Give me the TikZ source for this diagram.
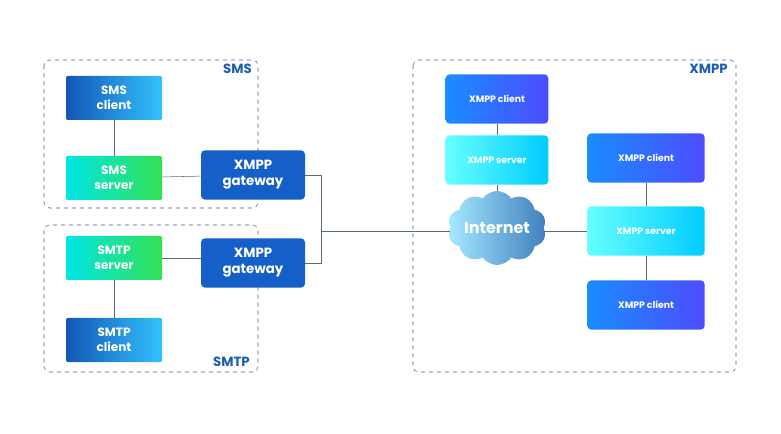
\documentclass[tikz,border=0pt]{standalone}
\usepackage{fontspec}
\setmainfont{Poppins}
\usetikzlibrary{shapes.symbols}
\definecolor{lbl}{HTML}{1A5FB4}
\definecolor{line}{HTML}{5A6B80}
\definecolor{dash}{HTML}{3F6A9A}
\definecolor{gw}{HTML}{1560C8}
\tikzset{>=latex}
\begin{document}
\begin{tikzpicture}[x=0.75pt,y=-0.75pt]
  % sc = sms/smtp client, ss = server, gw = gateway, xc/xs = xmpp client/server
  \tikzstyle{every node}=[text=white, font=\bfseries\small, align=center, inner sep=0pt]
  \tikzstyle{box}=[rectangle, rounded corners=1pt, minimum width=72pt, minimum height=33pt]
  \tikzstyle{cli}=[box, left color=gw!90!black, right color=cyan!70!blue!80]
  \tikzstyle{srv}=[box, left color=cyan!80!teal, right color=green!70!teal!80]
  \tikzstyle{gate}=[box, rounded corners=3pt, fill=gw, minimum width=78pt, minimum height=37pt, font=\bfseries\normalsize]
  \tikzstyle{xcli}=[box, rounded corners=3pt, left color=blue!50!cyan!90, right color=blue!70!white, minimum width=77pt, minimum height=37pt, font=\bfseries\scriptsize]
  \tikzstyle{xsrv}=[xcli, left color=cyan!60!white, right color=cyan!80!blue]
  \tikzstyle{grp}=[draw=dash, dashed, rounded corners=4pt]
  \tikzstyle{tag}=[text=lbl, font=\bfseries\normalsize, anchor=north east]
  \tikzstyle{link}=[draw=line, thin]
  \useasboundingbox (0,0) rectangle (781,434);
  \draw[grp] (44,60) rectangle (258,208);
  \draw[grp] (44,225) rectangle (258,372);
  \draw[grp] (413,60) rectangle (736,372);
  \node[tag] (tsms) at (252,64) {SMS};
  \node[tag, anchor=south east] (tsmtp) at (250,367) {SMTP};
  \node[tag] (txmpp) at (728,64) {XMPP};
  \node[cli] (smsc) at (114,98) {SMS\\client};
  \node[srv] (smss) at (114,178) {SMS\\server};
  \node[gate] (gw1) at (253,175) {XMPP\\gateway};
  \node[srv] (smtps) at (114,258) {SMTP\\server};
  \node[gate] (gw2) at (253,263) {XMPP\\gateway};
  \node[cli] (smtpc) at (114,340) {SMTP\\client};
  \node[xcli] (xc1) at (497,99) {XMPP client};
  \node[xsrv] (xs1) at (497,160) {XMPP server};
  \node[cloud, cloud puffs=10, cloud puff arc=110, aspect=1.5, minimum width=66pt, minimum height=50pt,
        left color=blue!25!cyan!35!white, right color=blue!50!cyan!50!gray, font=\bfseries\large] (net) at (497,228) {Internet};
  \node[xcli, minimum width=88pt] (xc2) at (646,158) {XMPP client};
  \node[xsrv, minimum width=88pt] (xs2) at (646,231) {XMPP server};
  \node[xcli, minimum width=88pt] (xc3) at (646,305) {XMPP client};
  \coordinate (jn) at (321,231);
  \draw[link] (smsc) -- (smss);
  \draw[link] (smss) -- (gw1);
  \draw[link] (smtps) -- (smtpc);
  \draw[link] (smtps.east) -- (gw2.west |- smtps.east);
  \draw[link] (gw1.east) -| (jn);
  \draw[link] (gw2.east) -| (jn);
  \draw[link] (jn) -- (net.west |- jn);
  \draw[link] (xc1) -- (xs1);
  \draw[link] (xs1) -- (net);
  \draw[link] (net.east |- xs2) -- (xs2);
  \draw[link] (xc2) -- (xs2);
  \draw[link] (xs2) -- (xc3);
\end{tikzpicture}
\end{document}
